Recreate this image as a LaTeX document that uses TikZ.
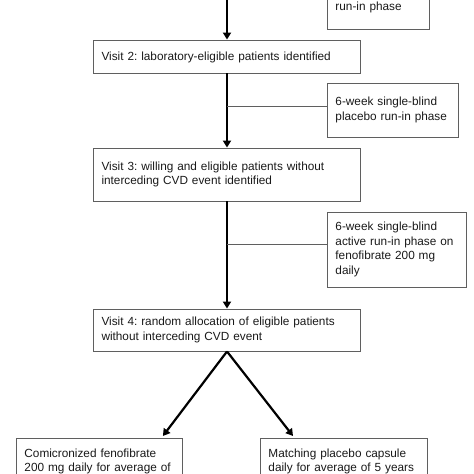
\documentclass[tikz,border=0pt]{standalone}
\usepackage{fontspec}
\setmainfont{Liberation Sans}
\frenchspacing
\usepackage{tikz}
\usetikzlibrary{positioning,calc,arrows.meta}
\definecolor{boxgray}{RGB}{95,95,95}
\definecolor{inkblack}{RGB}{25,25,25}

\begin{document}
\begin{tikzpicture}[x=1pt,y=-1pt,
  visit/.style={draw=boxgray,line width=0.9pt,align=left,text=inkblack,
                font=\fontsize{11.8}{14.6}\selectfont,inner xsep=8pt,inner ysep=0pt,
                text width=251pt},
  side/.style={visit},
  arr/.style={-{Triangle[length=7pt,width=8pt]},line width=2.2pt,color=black},
  branch/.style={line width=0.9pt,color=boxgray}]
  \useasboundingbox (0,0) rectangle (474,474);
  \clip (0,0) rectangle (474,474);
  % main column
  \coordinate (v1) at (227,-10);
  \node[visit,minimum height=33pt,text height=11pt] (v2) at (227,56.5) {Visit 2: laboratory-eligible patients identified};
  \node[visit,minimum height=53pt] (v3) at (227,174.5)
    {Visit 3: willing and eligible patients without\\interceding CVD event identified};
  \node[visit,minimum height=42pt] (v4) at (227,330)
    {Visit 4: random allocation of eligible patients\\without interceding CVD event};
  % run-in boxes
  \node[side,anchor=south west,text width=86pt,text height=40pt,text depth=19.5pt] (r1) at (327,30) {run-in phase};
  \node[side,anchor=west,text width=115pt,minimum height=54pt] (r2) at (327,110)
    {6-week single-blind\\placebo run-in phase};
  \node[side,anchor=west,text width=123pt,minimum height=75pt] (r3) at (327,249.5)
    {6-week single-blind\\active run-in phase on\\fenofibrate 200 mg\\daily};
  % treatment arms
  \node[side,anchor=north west,text width=150pt,inner ysep=10pt,text depth=40pt] (arm1) at (16,438)
    {Comicronized fenofibrate\\200 mg daily for average of};
  \node[side,anchor=north west,text width=151pt,inner ysep=10pt,text depth=40pt] (arm2) at (260,438)
    {Matching placebo capsule\\daily for average of 5 years};
  % connectors
  \draw[arr] (v1) -- (v2.north);
  \draw[arr] (v2.south) -- (v3.north);
  \draw[arr] (v3.south) -- (v4.north);
  \draw[branch] ([yshift=4pt]r2.west) -- ([yshift=4pt]r2.west -| v2.south);
  \draw[branch] ([yshift=5.5pt]r3.west) -- ([yshift=5.5pt]r3.west -| v3.south);
  \draw[arr] (v4.south) -- ([xshift=-20pt,yshift=2pt]arm1.north east);
  \draw[arr] (v4.south) -- ([xshift=33pt,yshift=2pt]arm2.north west);
\end{tikzpicture}
\end{document}
